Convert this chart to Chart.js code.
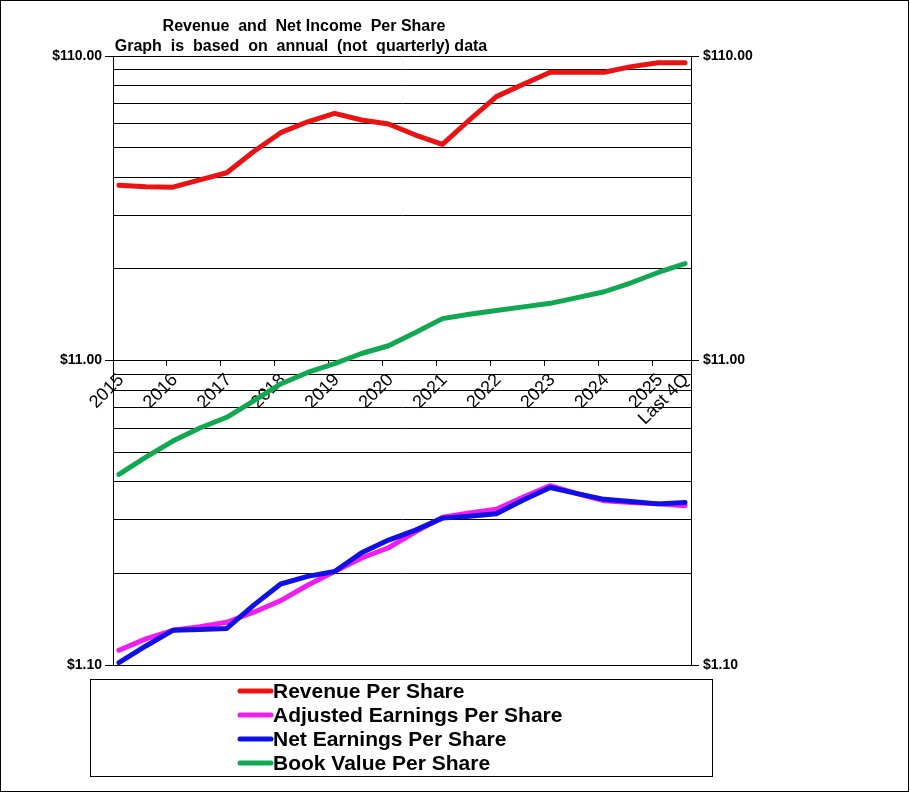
<!DOCTYPE html>
<html lang="en">
<head>
<meta charset="UTF-8" />
<title>Revenue and Net Income Per Share</title>
<script src="https://cdn.jsdelivr.net/npm/chart.js@4/dist/chart.umd.min.js"></script>
<style>
  body { margin: 0; background: #fff; }
  canvas { display: block; }
</style>
</head>
<body>
<canvas id="chart" width="910" height="794"></canvas>
<script>
// half-year data points (x in years)
const periods = [2015, 2015.5, 2016, 2016.5, 2017, 2017.5, 2018, 2018.5, 2019, 2019.5, 2020,
                 2020.5, 2021, 2021.5, 2022, 2022.5, 2023, 2023.5, 2024, 2024.5, 2025, 2025.5];

const revenue   = [41.4, 40.9, 40.8, 43.1, 45.5, 53.4, 61.6, 66.9, 71.3, 67.8, 65.8,
                   60.5, 56.4, 67.8, 80.9, 88.8, 97.3, 97.3, 97.3, 101.5, 104.6, 104.6];
const adjEps    = [1.23, 1.34, 1.43, 1.47, 1.52, 1.64, 1.79, 2.01, 2.23, 2.47, 2.67,
                   3.01, 3.36, 3.47, 3.57, 3.92, 4.27, 4.02, 3.81, 3.76, 3.72, 3.67];
const netEps    = [1.12, 1.27, 1.43, 1.44, 1.45, 1.73, 2.03, 2.15, 2.23, 2.57, 2.83,
                   3.05, 3.34, 3.39, 3.45, 3.83, 4.21, 4.02, 3.85, 3.79, 3.72, 3.76];
const bookValue = [4.65, 5.30, 5.98, 6.60, 7.16, 8.10, 9.21, 10.05, 10.75, 11.6, 12.3,
                   13.6, 15.1, 15.6, 16.05, 16.5, 16.95, 17.7, 18.5, 19.8, 21.4, 22.9];

// x tick labels and where they sit
const xTickLabels = ["2015", "2016", "2017", "2018", "2019", "2020", "2021", "2022", "2023", "2024", "2025", "Last 4Q"];
const xTickValues = [2014.89, 2015.89, 2016.89, 2017.89, 2018.89, 2019.89, 2020.89, 2021.89, 2022.89, 2023.89, 2024.89, 2025.37];

// log y axis gridlines + labelled ones
const yTickValues = [1.1, 2.2, 3.3, 4.4, 5.5, 6.6, 7.7, 8.8, 9.9, 11, 22, 33, 44, 55, 66, 77, 88, 99, 110];
const yLabelled = [1.1, 11, 110];

const toPts = (vals) => vals.map((v, i) => ({ x: periods[i], y: v }));

const line = (label, vals, color, order) => ({
  label,
  data: toPts(vals),
  borderColor: color,
  backgroundColor: color,
  borderWidth: 5,
  pointRadius: 0,
  tension: 0,
  borderCapStyle: "round",
  borderJoinStyle: "round",
  order,
});

const FONT = "'Liberation Sans', Arial, sans-serif";

// title + legend + outer frame drawn on the canvas
const decorations = {
  id: "decorations",
  afterDraw(chart) {
    const ctx = chart.ctx;
    ctx.save();
    ctx.fillStyle = "#000";
    ctx.textAlign = "center";
    ctx.textBaseline = "middle";
    ctx.font = "bold 16px " + FONT;
    ctx.fillText("Revenue  and  Net Income  Per Share", 304, 27);
    ctx.fillText("Graph  is  based  on  annual  (not  quarterly) data", 301, 47);

    // legend box
    ctx.strokeStyle = "#000";
    ctx.lineWidth = 1;
    ctx.strokeRect(90.5, 679.5, 622, 97);
    ctx.textAlign = "left";
    ctx.font = "bold 21px " + FONT;
    chart.data.datasets.forEach((ds, i) => {
      const y = 691 + i * 24;
      ctx.strokeStyle = ds.borderColor;
      ctx.lineWidth = 5;
      ctx.lineCap = "round";
      ctx.beginPath();
      ctx.moveTo(240, y);
      ctx.lineTo(271, y);
      ctx.stroke();
      ctx.fillText(ds.label, 273, y + 1);
    });

    // outer frame
    ctx.strokeStyle = "#000";
    ctx.lineWidth = 1;
    ctx.lineCap = "butt";
    ctx.strokeRect(0.5, 0.5, 908, 791);
    ctx.restore();
  },
};

const yTickColor = (c) => (yLabelled.includes(c.tick && c.tick.value) ? "#000" : "rgba(0,0,0,0)");
const yLabel = (v) => (yLabelled.includes(v) ? "$" + v.toFixed(2) : "");

new Chart(document.getElementById("chart"), {
  type: "line",
  data: {
    datasets: [
      line("Revenue Per Share", revenue, "#ea1212", 3),
      line("Adjusted Earnings Per Share", adjEps, "#f01cf0", 2),
      line("Net Earnings Per Share", netEps, "#0f0fe6", 1),
      line("Book Value Per Share", bookValue, "#10a850", 4),
    ],
  },
  options: {
    responsive: false,
    animation: false,
    layout: { padding: { top: 56, bottom: 129, left: 0, right: 0 } },
    plugins: { legend: { display: false }, tooltip: { enabled: false } },
    scales: {
      x: {
        type: "linear",
        position: { y: 11 },
        min: 2014.89,
        max: 2025.61,
        afterBuildTicks: (s) => { s.ticks = xTickValues.map((v) => ({ value: v })); },
        ticks: {
          autoSkip: false,
          maxRotation: 45,
          minRotation: 45,
          color: "#000",
          padding: 4,
          labelOffset: 8,
          font: { family: FONT, size: 18 },
          callback: (v, i) => xTickLabels[i],
        },
        grid: {
          drawOnChartArea: false,
          tickLength: 5,
          tickColor: (c) => (c.index === xTickLabels.length - 1 ? "rgba(0,0,0,0)" : "#000"),
        },
        border: { color: "#000" },
      },
      y: {
        type: "logarithmic",
        position: "left",
        min: 1.1,
        max: 110,
        afterBuildTicks: (s) => { s.ticks = yTickValues.map((v) => ({ value: v })); },
        afterFit: (s) => { s.width = 113; },
        ticks: {
          autoSkip: false,
          color: "#000",
          padding: 3,
          font: { family: FONT, size: 14, weight: "bold" },
          callback: yLabel,
        },
        grid: { color: "#000", lineWidth: 1, tickLength: 8, tickColor: yTickColor },
        border: { color: "#000" },
      },
      y2: {
        type: "logarithmic",
        position: "right",
        min: 1.1,
        max: 110,
        afterBuildTicks: (s) => { s.ticks = yTickValues.map((v) => ({ value: v })); },
        afterFit: (s) => { s.width = 219; },
        ticks: {
          autoSkip: false,
          color: "#000",
          padding: 4,
          font: { family: FONT, size: 14, weight: "bold" },
          callback: yLabel,
        },
        grid: { drawOnChartArea: false, tickLength: 8, tickColor: yTickColor },
        border: { color: "#000" },
      },
    },
  },
  plugins: [decorations],
});
</script>
</body>
</html>
